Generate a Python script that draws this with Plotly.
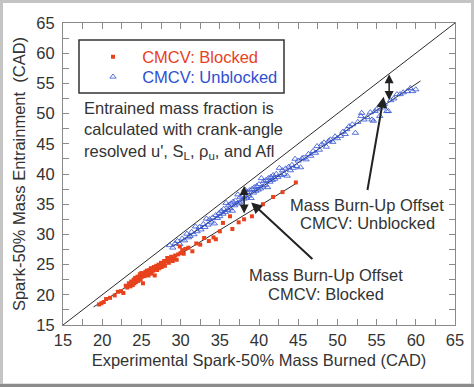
import plotly.graph_objects as go

# ---------------- data ----------------
blocked_x = [19.6, 19.9, 20.2, 20.5, 21.0, 21.6, 22.0, 22.4, 22.7, 23.0, 23.2, 23.4, 23.6, 23.7, 23.9,
             24.0, 24.1, 24.2, 24.3, 24.4, 24.5, 24.6, 24.7, 24.8, 24.9, 25.0, 25.1, 25.2, 25.3, 25.4,
             25.5, 25.6, 25.7, 25.8, 25.9, 26.0, 26.1, 26.2, 26.3, 26.4, 26.5, 26.6, 26.7, 26.8, 26.9,
             27.0, 27.1, 27.2, 27.3, 27.4, 27.5, 27.6, 27.8, 27.9, 28.0, 28.2, 28.3, 28.5, 28.6, 28.8,
             29.0, 29.1, 29.3, 29.5, 29.7, 29.9, 30.0, 30.2, 30.4, 30.6, 31.0, 31.5, 32.0, 32.5, 33.0,
             33.6, 34.2, 34.5, 35.0, 35.4, 36.3, 36.6, 37.4, 38.1, 39.1, 40.5, 41.8, 43.0, 44.7]
blocked_y = [18.4, 18.6, 18.8, 19.3, 19.5, 19.9, 20.5, 20.6, 20.3, 21.5, 21.2, 21.9, 21.4, 22.2, 21.6,
             22.5, 21.9, 22.8, 22.1, 22.6, 23.0, 22.3, 22.9, 23.4, 22.5, 23.6, 23.0, 21.9, 23.5, 23.1,
             23.8, 23.3, 24.0, 23.5, 23.2, 24.1, 23.8, 24.4, 23.5, 24.3, 24.0, 24.6, 23.2, 24.4, 24.8,
             24.1, 24.7, 25.0, 24.4, 24.9, 25.3, 24.6, 25.2, 25.6, 24.8, 25.5, 26.1, 25.3, 25.9, 26.3,
             25.6, 26.0, 26.5, 25.8, 26.7, 28.0, 26.9, 27.4, 26.8, 27.6, 27.8, 27.2, 28.5, 28.3, 29.4,
             28.9, 29.5, 29.2, 30.5, 31.9, 33.0, 30.9, 32.0, 32.5, 33.0, 35.0, 36.2, 37.0, 38.6]

unblocked_x = [28.6, 29.0, 29.3, 29.6, 29.9, 30.2, 30.5, 30.8, 31.0, 31.2, 31.4, 31.7, 31.9, 32.1, 32.4,
               32.6, 32.9, 33.1, 33.3, 33.5, 33.7, 33.9, 34.1, 34.3, 34.5, 34.7, 34.9, 35.0, 35.2, 35.4,
               35.5, 35.7, 35.8, 36.0, 36.1, 36.3, 36.4, 36.6, 36.7, 36.9, 37.0, 37.2, 37.3, 37.5, 37.6,
               37.8, 37.9, 38.1, 38.2, 38.4, 38.5, 38.7, 38.8, 39.0, 39.1, 39.3, 39.4, 39.6, 39.7, 39.9,
               40.0, 40.2, 40.3, 40.5, 40.6, 40.8, 40.9, 41.1, 41.2, 41.4, 41.5, 41.7, 41.8, 42.0, 42.2,
               42.4, 42.6, 42.8, 43.0, 43.2, 43.4, 43.6, 43.8, 44.0, 44.2, 44.4, 44.6, 44.8, 45.0, 45.3,
               45.5, 45.7, 46.0, 46.3, 46.6, 46.9, 47.2, 47.4, 47.7, 48.0, 48.3, 48.6, 48.9, 49.1, 49.4,
               49.7, 50.0, 50.4, 50.7, 51.0, 51.2, 51.5, 51.9, 52.3, 52.6, 53.0, 53.1, 53.4, 53.8, 54.2,
               54.4, 54.6, 54.8, 55.0, 55.4, 55.7, 56.0, 56.3, 56.5, 56.8, 57.2, 57.6, 58.0, 58.4, 58.9,
               59.3, 59.6, 60.0]
unblocked_y = [28.2, 27.8, 28.5, 28.9, 28.4, 29.3, 29.0, 30.1, 29.5, 29.7, 30.4, 30.0, 31.3, 30.5, 31.2,
               30.8, 31.7, 31.2, 32.6, 31.6, 32.5, 32.1, 32.8, 31.8, 33.2, 32.7, 33.5, 33.0, 33.9, 33.4,
               34.2, 33.7, 35.2, 34.0, 34.8, 34.3, 35.1, 33.9, 35.4, 34.8, 35.6, 35.1, 36.6, 35.3, 36.2,
               35.6, 36.4, 35.9, 37.4, 36.1, 37.0, 36.4, 37.3, 36.0, 37.5, 36.9, 37.8, 37.2, 38.0, 37.4,
               38.3, 37.6, 39.3, 37.9, 38.8, 38.2, 39.0, 37.8, 39.3, 38.7, 39.5, 39.0, 39.8, 39.2, 40.0,
               39.5, 41.0, 39.8, 40.6, 40.0, 40.9, 39.7, 41.2, 40.6, 41.5, 41.0, 42.5, 41.3, 42.2, 41.1,
               42.6, 42.7, 42.4, 43.3, 43.0, 43.8, 43.5, 44.6, 44.0, 44.9, 45.2, 44.5, 45.5, 45.7, 45.3,
               46.2, 45.9, 46.3, 47.0, 46.6, 47.4, 47.9, 48.2, 46.8, 48.6, 49.6, 50.1, 49.0, 49.4, 50.2,
               49.0, 48.8, 50.4, 50.7, 49.6, 51.0, 51.6, 50.4, 50.4, 52.2, 52.5, 53.2, 53.2, 53.5, 53.7,
               54.2, 53.7, 54.0]

ref_x = [15, 65]
ref_y = [15, 65]
blocked_fit_x = [18.9, 44.7]
blocked_fit_y = [18.0, 38.4]
unblocked_fit_x = [29.0, 60.6]
unblocked_fit_y = [28.0, 55.4]

offset_x = [38.1, 56.6]
offset_top = [38.0, 56.5]
offset_bottom = [33.2, 52.0]

x_ticks = [15, 20, 25, 30, 35, 40, 45, 50, 55, 60, 65]
y_ticks = [15, 20, 25, 30, 35, 40, 45, 50, 55, 60, 65]

FONT = "Liberation Sans, Arial, sans-serif"
TXT = "#333333"
RED = "#e8421c"
BLUE = "#2f4fd2"
AX = "#8a8a8a"

fig = go.Figure()

for xs, ys in [(ref_x, ref_y), (blocked_fit_x, blocked_fit_y), (unblocked_fit_x, unblocked_fit_y)]:
    fig.add_trace(go.Scatter(x=xs, y=ys, mode="lines", line=dict(color="#2a2a2a", width=1),
                             showlegend=False, hoverinfo="skip"))

fig.add_trace(go.Scatter(
    x=unblocked_x, y=unblocked_y, mode="markers",
    name="\u00a0\u00a0<span style='color:%s'>CMCV: Unblocked</span>" % BLUE,
    legend="legend2",
    marker=dict(symbol="triangle-up-open", size=5.5, color=BLUE, line=dict(width=0.8, color=BLUE))))
fig.add_trace(go.Scatter(
    x=blocked_x, y=blocked_y, mode="markers",
    name="\u00a0\u00a0<span style='color:%s'>CMCV: Blocked</span>" % RED,
    legend="legend",
    marker=dict(symbol="square", size=4, color=RED, line=dict(width=0))))

# offset double arrows
for xv, yt, yb in zip(offset_x, offset_top, offset_bottom):
    fig.add_annotation(x=xv, y=yt, ax=xv, ay=yb, xref="x", yref="y", axref="x", ayref="y",
                       text="", showarrow=True, arrowhead=2, arrowside="end+start",
                       arrowsize=1.2, arrowwidth=1.5, arrowcolor="#222222", standoff=0, startstandoff=0)

# pointer arrows
fig.add_annotation(x=55.9, y=52.8, ax=53.8, ay=37.1, xref="x", yref="y", axref="x", ayref="y",
                   text="", showarrow=True, arrowhead=2, arrowsize=1.1, arrowwidth=2,
                   arrowcolor="#222222")
fig.add_annotation(x=39.0, y=35.3, ax=47.0, ay=25.7, xref="x", yref="y", axref="x", ayref="y",
                   text="", showarrow=True, arrowhead=2, arrowsize=1.1, arrowwidth=2,
                   arrowcolor="#222222")

def px2x(p):
    return (p - 63) / 392.0

def py2y(p):
    return (325 - p) / 302.0

labels = [
    ("Mass Burn-Up Offset", 367, 205),
    ("CMCV: Unblocked", 367, 223),
    ("Mass Burn-Up Offset", 326, 275),
    ("CMCV: Blocked", 326, 294),
]
for t, px, py in labels:
    fig.add_annotation(x=px2x(px), y=py2y(py), xref="paper", yref="paper", text=t,
                       showarrow=False, xanchor="center", yanchor="middle",
                       font=dict(size=16.5, color=TXT, family=FONT))

fig.add_annotation(x=px2x(82), y=py2y(97), xref="paper", yref="paper",
                   text="Entrained mass fraction is<br>calculated with crank-angle<br>"
                        "resolved u', S<sub>L</sub>, \u03c1<sub>u</sub>, and Afl",
                   showarrow=False, xanchor="left", yanchor="top", align="left",
                   font=dict(size=16.5, color=TXT, family=FONT))

# legend box & image border
fig.add_shape(type="rect", xref="paper", yref="paper",
              x0=px2x(79), x1=px2x(284), y0=py2y(93), y1=py2y(40),
              line=dict(color="#333333", width=1.5), fillcolor="rgba(0,0,0,0)")
fig.add_shape(type="rect", xref="paper", yref="paper",
              x0=px2x(1.5), x1=px2x(472.5), y0=py2y(385), y1=py2y(1.5),
              line=dict(color="#c4c4c4", width=3), fillcolor="rgba(0,0,0,0)")
fig.add_shape(type="line", xref="paper", yref="paper",
              x0=px2x(0), x1=px2x(474), y0=py2y(385.5), y1=py2y(385.5),
              line=dict(color="#8c8c8c", width=3))

axis_common = dict(
    showline=True, linecolor=AX, linewidth=1, mirror="ticks",
    ticks="inside", ticklen=6, tickcolor=AX, tickwidth=1,
    showgrid=False, zeroline=False, automargin=False,
    tickfont=dict(size=16.5, color=TXT, family=FONT),
    minor=dict(dtick=2.5, ticks="inside", ticklen=6, tickcolor=AX, showgrid=False),
)

fig.update_xaxes(range=[15, 65], tickmode="array", tickvals=x_ticks,
                 ticktext=[str(v) for v in x_ticks],
                 title=dict(text="Experimental Spark-50% Mass Burned (CAD)",
                            font=dict(size=16.5, color=TXT, family=FONT), standoff=6),
                 **axis_common)
fig.update_yaxes(range=[15, 65], tickmode="array", tickvals=y_ticks,
                 ticktext=[str(v) for v in y_ticks],
                 ticklabelstandoff=4,
                 title=dict(text="Spark-50% Mass Entrainment\u00a0\u00a0(CAD)",
                            font=dict(size=16.5, color=TXT, family=FONT), standoff=6),
                 **axis_common)

leg_common = dict(xanchor="left", yanchor="middle", bgcolor="rgba(0,0,0,0)", borderwidth=0,
                  font=dict(size=16.5, family=FONT), itemsizing="trace")

fig.update_layout(
    width=474, height=387,
    margin=dict(l=63, r=19, t=23, b=62, autoexpand=False),
    paper_bgcolor="white", plot_bgcolor="white",
    font=dict(family=FONT, color=TXT),
    showlegend=True,
    legend=dict(x=px2x(93), y=py2y(57), **leg_common),
    legend2=dict(x=px2x(93), y=py2y(77), **leg_common),
)

fig.write_html("out.html", config={"displayModeBar": False},
               post_script="document.body.style.margin='0';document.body.style.padding='0';")
